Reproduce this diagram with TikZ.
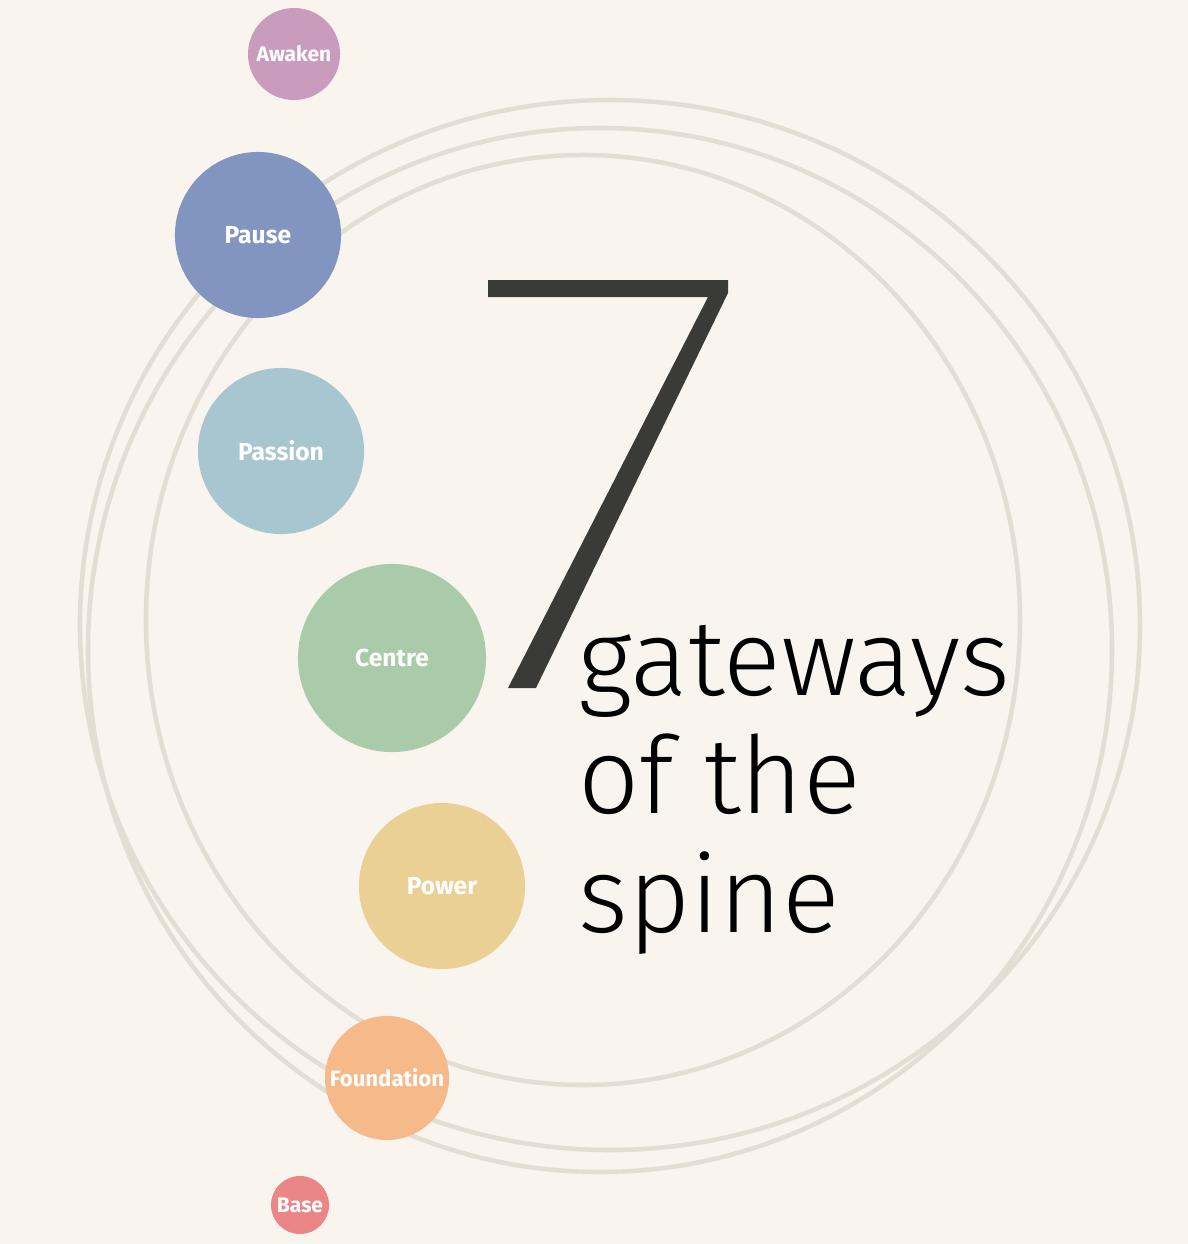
\documentclass[tikz,border=0pt]{standalone}
\usepackage{fontspec}
\setsansfont{Fira Sans}
\newfontfamily\thinfont{Fira Sans Light}
\usetikzlibrary{positioning}
\definecolor{bg}{HTML}{F9F5EE}
\definecolor{ring}{HTML}{E2DED3}
\definecolor{ink}{HTML}{3A3A36}
\definecolor{cAwaken}{HTML}{C99BBD}
\definecolor{cPause}{HTML}{8294C0}
\definecolor{cPassion}{HTML}{A7C6CF}
\definecolor{cCentre}{HTML}{A9CBA9}
\definecolor{cPower}{HTML}{EBD095}
\definecolor{cFound}{HTML}{F5B98A}
\definecolor{cBase}{HTML}{EC8585}
\tikzset{Gate/.style={circle, inner sep=0pt, text=white, font=\sffamily\bfseries\fontsize{7pt}{8pt}\selectfont}}
\tikzset{Ring/.style={draw=ring, line width=1.3pt}}
\begin{document}
\begin{tikzpicture}[x=0.01cm,y=-0.01cm]
\fill[bg] (0,0) rectangle (1188,1244);
\useasboundingbox (0,0) rectangle (1188,1244);
% rings
\draw[Ring] (610,625) ellipse [x radius=530, y radius=525];
\draw[Ring] (583,620) ellipse [x radius=437, y radius=465];
\draw[Ring] (600,650) ellipse [x radius=512, y radius=522];
% the big seven
\fill[ink] (488,280) -- (728,280) -- (728,293) -- (536,688) -- (508,688) -- (708,297) -- (488,297) -- cycle;
\node[anchor=base west, inner sep=0pt, align=left, font=\thinfont\fontsize{30.5pt}{33.6pt}\selectfont] (title) at (578,932) {gateways\\of the\\spine};
% gateways
\node[Gate, fill=cAwaken, minimum size=0.92cm, font=\sffamily\bfseries\fontsize{6pt}{7pt}\selectfont] (awaken) at (294,54) {Awaken};
\node[Gate, fill=cPause, minimum size=1.66cm] (pause) at (258,235) {Pause};
\node[Gate, fill=cPassion, minimum size=1.66cm] (passion) at (281,451) {Passion};
\node[Gate, fill=cCentre, minimum size=1.88cm] (centre) at (392,658) {Centre};
\node[Gate, fill=cPower, minimum size=1.66cm] (power) at (442,886) {Power};
\node[Gate, fill=cFound, minimum size=1.24cm, font=\sffamily\bfseries\fontsize{6.3pt}{7pt}\selectfont] (found) at (387,1078) {Foundation};
\node[Gate, fill=cBase, minimum size=0.58cm, font=\sffamily\bfseries\fontsize{6pt}{7pt}\selectfont] (base) at (300,1205) {Base};
\end{tikzpicture}
\end{document}
